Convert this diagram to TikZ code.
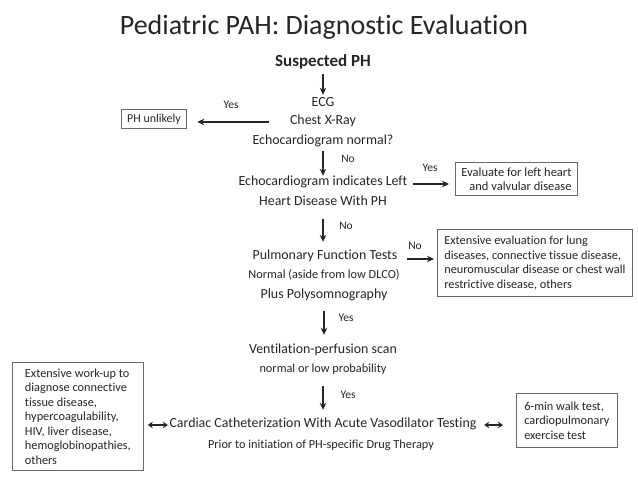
\documentclass[tikz,border=0pt]{standalone}
\usepackage{fontspec}
\setmainfont{Carlito}[RawFeature={-liga}]
\usetikzlibrary{arrows.meta}
\definecolor{ink}{HTML}{262626}
\definecolor{boxline}{HTML}{6A6A6A}
\begin{document}
\begin{tikzpicture}[x=1pt,y=-1pt,
  txt/.style={inner sep=0.5pt, text=ink, text height=0.7em, text depth=0.2em, font=\fontsize{13.9}{16}\selectfont},
  small/.style={txt, font=\fontsize{12.3}{14}\selectfont},
  lbl/.style={inner sep=0.5pt, text=ink, font=\fontsize{11.5}{13}\selectfont},
  box/.style={draw=boxline, line width=0.8pt, text=ink, inner xsep=5pt, inner ysep=4pt, align=left, font=\fontsize{12.3}{14.5}\selectfont},
  arr/.style={draw=ink, line width=1.4pt, -{Stealth[length=7pt,width=6.5pt]}},
  darr/.style={draw=ink, line width=1.6pt, {Stealth[length=5pt,width=6.5pt]}-{Stealth[length=5pt,width=6.5pt]}}
]
\useasboundingbox (0,0) rectangle (638,478);
\fill[white] (0,0) rectangle (638,478);

% title
\node[txt, font=\fontsize{28}{30}\selectfont] (title) at (324,32) {Pediatric PAH: Diagnostic Evaluation};

% main column
\node[txt, font=\bfseries\fontsize{17}{19}\selectfont] (sus) at (323,64) {Suspected PH};
\node[txt] (ecg) at (323,104) {ECG};
\node[txt] (cxr) at (323,122) {Chest X-Ray};
\node[txt] (echo) at (323,142) {Echocardiogram normal?};
\node[txt] (eil) at (323,183) {Echocardiogram indicates Left};
\node[txt] (hd) at (323,203) {Heart Disease With PH};
\node[txt] (pft) at (325,257) {Pulmonary Function Tests};
\node[small] (norm) at (324,276) {Normal (aside from low DLCO)};
\node[txt] (poly) at (324,296) {Plus Polysomnography};
\node[txt] (vq) at (323,351) {Ventilation-perfusion scan};
\node[small] (vqs) at (323,370) {normal or low probability};
\node[txt] (cath) at (323,425) {Cardiac Catheterization With Acute Vasodilator Testing};
\node[small] (prior) at (321,446) {Prior to initiation of PH-specific Drug Therapy};

% side boxes
\node[box, font=\fontsize{12}{13}\selectfont, inner xsep=6pt, inner ysep=4pt] (unl) at (154,119) {PH unlikely};
\node[box, align=right, font=\fontsize{12.5}{14}\selectfont, inner ysep=5pt, inner xsep=6pt, anchor=west] (evalbox) at (455,179) {Evaluate for left heart\\and valvular disease};
\node[box, anchor=north west, minimum width=195pt, minimum height=67pt] (extbox) at (437,229) {Extensive evaluation for lung\\diseases, connective tissue disease,\\neuromuscular disease or chest wall\\restrictive disease, others};
\node[box, anchor=north west, minimum width=131pt, minimum height=108pt] (leftbox) at (12,362) {Extensive work-up to\\diagnose connective\\tissue disease,\\hypercoagulability,\\HIV, liver disease,\\hemoglobinopathies,\\others};
\node[box, anchor=north west, minimum width=101pt, minimum height=54pt] (rightbox) at (516,393) {6-min walk test,\\cardiopulmonary\\exercise test};

% labels
\node[lbl] (l1) at (231,105) {Yes};
\node[lbl] (l2) at (348,159) {No};
\node[lbl] (l3) at (430,168) {Yes};
\node[lbl] (l4) at (346,226) {No};
\node[lbl] (l5) at (415,246) {No};
\node[lbl] (l6) at (346,318) {Yes};
\node[lbl] (l7) at (348,395) {Yes};

% connectors
\draw[arr, shorten <=5pt, shorten >=4pt] (sus.south) -- (ecg.north);
\draw[arr, shorten <=20pt, shorten >=10pt] (cxr.west) -- (unl.east |- cxr.west);
\draw[arr, shorten <=4pt, shorten >=2pt] (echo.south) -- (eil.north);
\draw[arr, shorten <=5pt, shorten >=6pt] ([yshift=-1pt]eil.east) -- ([yshift=-1pt]eil.east -| evalbox.west);
\draw[arr, shorten <=11pt, shorten >=10pt] (hd.south) -- (hd.south |- pft.north);
\draw[arr, shorten <=9pt, shorten >=3pt] ([yshift=-2pt]pft.east) -- ([yshift=-2pt]pft.east -| extbox.west);
\draw[arr, shorten <=10pt, shorten >=11pt] (poly.south) -- (poly.south |- vq.north);
\draw[arr, shorten <=11pt, shorten >=10pt] (vqs.south) -- (vqs.south |- cath.north);
\draw[darr, shorten <=1pt, shorten >=4pt] (cath.west) -- (leftbox.east |- cath.west);
\draw[darr, shorten <=7pt, shorten >=13pt] (cath.east) -- (rightbox.west |- cath.east);
\end{tikzpicture}
\end{document}
